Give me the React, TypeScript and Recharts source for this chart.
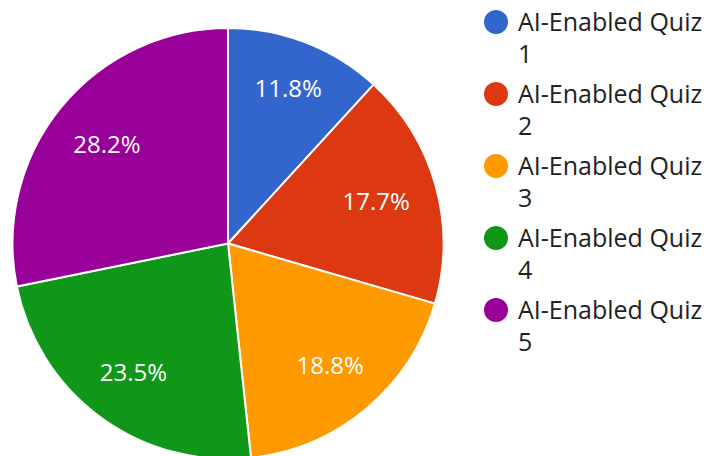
import { PieChart, Pie, Cell } from 'recharts'

const categories = ['AI-Enabled Quiz 1', 'AI-Enabled Quiz 2', 'AI-Enabled Quiz 3', 'AI-Enabled Quiz 4', 'AI-Enabled Quiz 5']
const shares = [11.8, 17.7, 18.8, 23.5, 28.2]
const colors = ['#3366cc', '#dc3912', '#ff9900', '#109618', '#990099']

const data = categories.map((name, i) => ({ name, value: shares[i] }))
const total = shares.reduce((a, b) => a + b, 0)

const RADIAN = Math.PI / 180
const FONT = '"Open Sans", "Noto Sans", sans-serif'

// labels sit so the outer corner of their box touches a fixed inner circle
function renderLabel(props: any) {
  const { cx, cy, midAngle, outerRadius, value } = props
  const ux = Math.cos(-midAngle * RADIAN)
  const uy = Math.sin(-midAngle * RADIAN)
  const sx = Math.sign(ux) * 33.5
  const sy = Math.sign(uy) * 9
  const rc = outerRadius * 0.875
  const us = ux * sx + uy * sy
  const t = -us + Math.sqrt(us * us - (sx * sx + sy * sy) + rc * rc)
  const x = cx + t * ux
  const y = cy + t * uy
  return (
    <text x={x} y={y + 8.5} fill="#ffffff" textAnchor="middle" fontSize={24} fontFamily={FONT}>
      {((value / total) * 100).toFixed(1)}%
    </text>
  )
}

function PieLegend() {
  return (
    <div style={{ position: 'absolute', left: 484, top: 5, fontFamily: FONT, fontSize: 25, color: '#222222' }}>
      {categories.map((name, i) => (
        <div key={i} style={{ display: 'flex', alignItems: 'flex-start', marginBottom: 8 }}>
          <div
            style={{
              width: 24,
              height: 24,
              borderRadius: 12,
              background: colors[i],
              marginTop: 5,
              marginRight: 10,
              flexShrink: 0,
            }}
          />
          <div style={{ width: 196, lineHeight: '32px' }}>{name}</div>
        </div>
      ))}
    </div>
  )
}

export default function App() {
  return (
    <div style={{ position: 'absolute', left: 0, top: 0, width: 704, height: 456, background: '#fff', overflow: 'hidden' }}>
      <PieChart width={704} height={456} margin={{ top: 0, right: 0, bottom: 0, left: 0 }}>
        <Pie
          data={data}
          dataKey="value"
          nameKey="name"
          cx={228}
          cy={243.5}
          outerRadius={215.5}
          startAngle={90}
          endAngle={-270}
          stroke="#ffffff"
          strokeWidth={2}
          label={renderLabel}
          labelLine={false}
          isAnimationActive={false}
        >
          {data.map((_, i) => (
            <Cell key={i} fill={colors[i]} />
          ))}
        </Pie>
      </PieChart>
      <PieLegend />
    </div>
  )
}
